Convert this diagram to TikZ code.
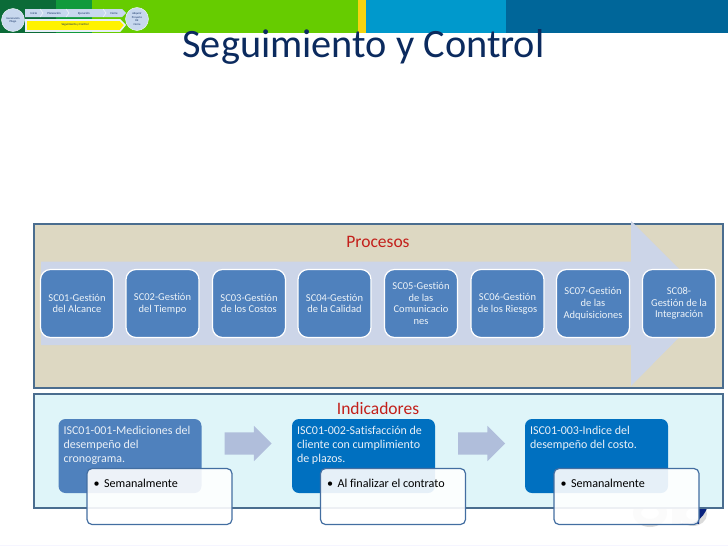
\documentclass[tikz,border=0pt]{standalone}
\usepackage{fontspec}
\setmainfont[Ligatures=NoCommon]{Carlito}
\usetikzlibrary{shapes.arrows}
\definecolor{bandone}{HTML}{0B6B38}
\definecolor{bandtwo}{HTML}{109A3C}
\definecolor{bandthree}{HTML}{66CC00}
\definecolor{bandfour}{HTML}{F5D410}
\definecolor{bandfive}{HTML}{0099CC}
\definecolor{bandsix}{HTML}{006699}
\definecolor{titleblue}{HTML}{0B2A5E}
\definecolor{frameblue}{HTML}{4A6D8F}
\definecolor{khaki}{HTML}{DDD8C2}
\definecolor{paleblue}{HTML}{DFF5F9}
\definecolor{arrowblue}{HTML}{CCD5E8}
\definecolor{softblue}{HTML}{B0BEDB}
\definecolor{stepblue}{HTML}{4F81BD}
\definecolor{strongblue}{HTML}{0070C0}
\definecolor{headred}{HTML}{C3201B}
\definecolor{minichev}{HTML}{C8D8EE}
\newcommand{\isctext}[1]{\parbox[c][62pt][t]{133pt}{\vspace*{1.5pt}\raggedright #1}}
\newcommand{\whentext}[1]{\parbox[c][45pt][t]{134pt}{\vspace*{5.5pt}\raggedright #1}}
\begin{document}
\begin{tikzpicture}[x=1pt,y=-1pt,
    scbox/.style={draw=white,line width=1.2pt,fill=stepblue,rounded corners=10pt,minimum width=73pt,minimum height=68pt,inner sep=1pt,align=center,text=white!90!stepblue,font=\fontsize{10.5}{11.8}\selectfont},
    iscbox/.style={fill=#1,rounded corners=7pt,minimum width=143pt,minimum height=74pt,inner sep=0pt,text=white!88!stepblue,font=\fontsize{12}{13.7}\selectfont},
    whenbox/.style={draw=stepblue!85!black,line width=1.2pt,fill=white,fill opacity=.9,text opacity=1,rounded corners=5pt,minimum width=145pt,minimum height=56pt,inner sep=0pt,font=\fontsize{12.1}{13}\selectfont},
    framebox/.style={draw=frameblue,line width=1.6pt,fill=#1},
    headtext/.style={text=headred,font=\fontsize{17.5}{19}\selectfont},
    nextarrow/.style={single arrow,fill=softblue,minimum width=35pt,minimum height=47pt,single arrow head extend=6.5pt,single arrow head indent=0pt,inner xsep=0pt,inner ysep=11pt},
    minichevron/.style={text=titleblue,font=\fontsize{3}{3.5}\selectfont,inner sep=0pt,text height=2pt,text depth=.6pt},
    minicircle/.style={circle,draw=white!80!minichev,fill=minichev,minimum size=23pt,inner sep=0pt,align=center,text=titleblue,font=\fontsize{2.8}{3.4}\selectfont}]
    \useasboundingbox (0,0) rectangle (728,546);
    \fill[bandone] (0,0) rectangle (56,33);
    \fill[bandtwo] (56,0) rectangle (92,33);
    \fill[bandthree] (92,0) rectangle (358,33);
    \fill[bandfour] (358,0) rectangle (366,33);
    \fill[bandfive] (366,0) rectangle (506,33);
    \fill[bandsix] (506,0) rectangle (728,33);
    \fill[minichev] (25,9) -- (122,9) -- (126,13) -- (122,17) -- (25,17) -- cycle;
    \draw[white!70!minichev,line width=.6pt] (40,9) -- (43,13) -- (40,17) (66,9) -- (69,13) -- (66,17) (103,9) -- (106,13) -- (103,17);
    \node[minichevron] (miniinicio) at (34,14) {Inicio};
    \node[minichevron] (miniplan) at (54,14) {Planeación};
    \node[minichevron] (miniejec) at (84,14) {Ejecución};
    \node[minichevron] (minicierre) at (114,14) {Cierre};
    \fill[yellow,draw=white!60!minichev,line width=1.6pt] (26,20) -- (120,20) -- (125,25) -- (120,31) -- (26,31) -- cycle;
    \node[minichevron] (miniseg) at (75,24.5) {Seguimiento y Control};
    \node[minicircle] (minileft) at (13,20) {Generación\\Pliego};
    \node[minicircle] (miniright) at (137,19) {Adquirir\\Proyecto\\DE\\Cierre};
    \node[text=titleblue,font=\fontsize{40.3}{42}\selectfont,inner sep=0pt] (title) at (363.5,47) {Seguimiento y Control};
    \begin{scope}[even odd rule]
        \fill[black!14!white] (650,513) circle[x radius=17,y radius=14] (650,513) circle[x radius=9,y radius=6];
        \fill[black!14!white] (672,503) rectangle (681,524);
        \fill[black!14!white] (693,514) circle[x radius=14,y radius=12] (693,514) circle[x radius=7,y radius=6];
    \end{scope}
    \fill[titleblue!80!blue] (678,523) .. controls (692,527) and (703,520) .. (708,506) -- (699,506) -- (699,524) -- cycle;
    \fill[blue!4!white] (0,544.5) rectangle (728,546);
    \node[framebox=khaki,minimum width=689pt,minimum height=164pt,inner sep=0pt] (procbox) at (378.5,306) {};
    \node[framebox=paleblue,minimum width=689pt,minimum height=114pt,inner sep=0pt] (indbox) at (378.5,451) {};
    \fill[arrowblue] (41,261.5) -- (631,261.5) -- (631,221) -- (713,303) -- (631,386) -- (631,345) -- (41,345) -- cycle;
    \node[headtext] (proctitle) at (378,241.5) {Procesos};
    \node[headtext] (indtitle) at (378,408) {Indicadores};
    \node[scbox] (sc1) at (77,303.5) {SC01-Gestión\\del Alcance};
    \node[scbox] (sc2) at (162.5,303.5) {SC02-Gestión\\del Tiempo};
    \node[scbox] (sc3) at (249,303.5) {SC03-Gestión\\de los Costos};
    \node[scbox] (sc4) at (334.5,303.5) {SC04-Gestión\\de la Calidad};
    \node[scbox] (sc5) at (421,303.5) {SC05-Gestión\\de las\\Comunicacio\\nes};
    \node[scbox] (sc6) at (507.5,303.5) {SC06-Gestión\\de los Riesgos};
    \node[scbox] (sc7) at (593,303.5) {SC07-Gestión\\de las\\Adquisiciones};
    \node[scbox] (sc8) at (679,303.5) {SC08-\\Gestión de la\\Integración};
    \node[iscbox=stepblue] (isc1) at (130,456) {\isctext{ISC01-001-Mediciones del\\desempeño del\\cronograma.}};
    \node[iscbox=strongblue] (isc2) at (363.5,456) {\isctext{ISC01-002-Satisfacción de\\cliente con cumplimiento\\de plazos.}};
    \node[iscbox=strongblue] (isc3) at (596.5,456) {\isctext{ISC01-003-Indice del\\desempeño del costo.}};
    \node[nextarrow] (arrow1) at (242.5,443.5) {};
    \node[nextarrow] (arrow2) at (476,443.5) {};
    \node[whenbox] (when1) at (159.5,496.5) {\whentext{\hspace*{1pt}•\hspace{4.5pt}Semanalmente}};
    \node[whenbox] (when2) at (393,496.5) {\whentext{\hspace*{1pt}•\hspace{4.5pt}Al finalizar el contrato}};
    \node[whenbox] (when3) at (626.5,496.5) {\whentext{\hspace*{1pt}•\hspace{4.5pt}Semanalmente}};
\end{tikzpicture}
\end{document}
